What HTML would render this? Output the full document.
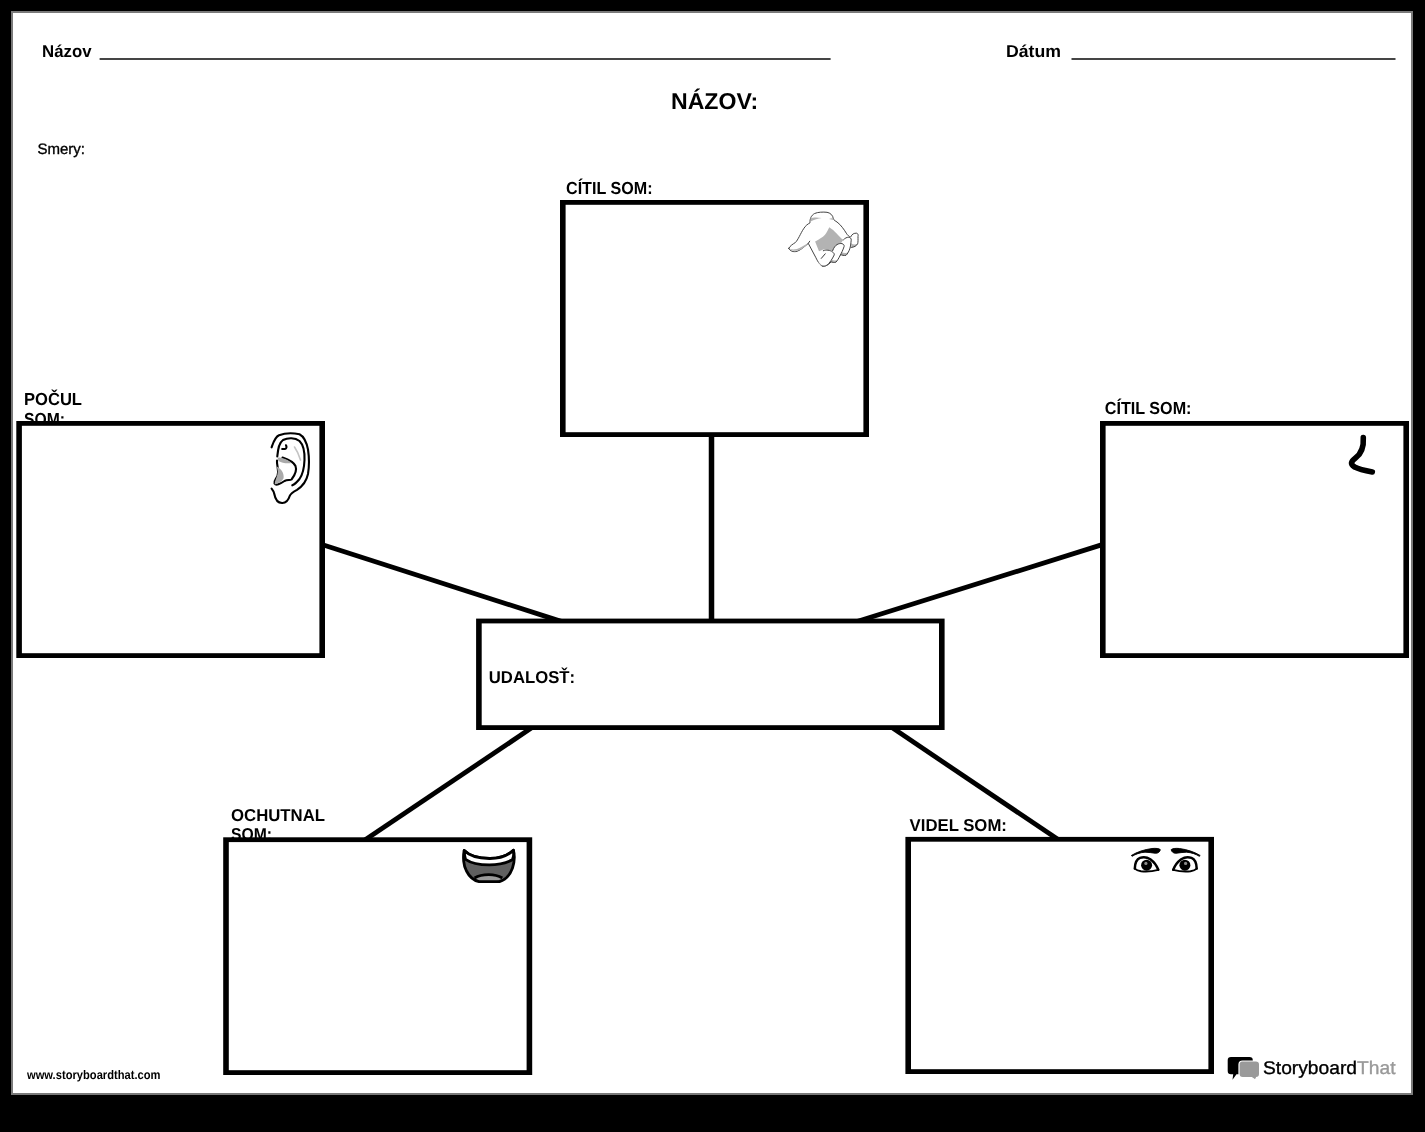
<!DOCTYPE html>
<html><head><meta charset="utf-8">
<style>
html,body{margin:0;padding:0;background:#000;width:1425px;height:1132px;overflow:hidden;}
svg{position:absolute;left:0;top:0;display:block;will-change:transform;}
text{font-family:"Liberation Sans",sans-serif;text-rendering:geometricPrecision;}
</style></head>
<body>
<svg width="1425" height="1132" viewBox="0 0 1425 1132">
<!-- page -->
<rect x="0" y="0" width="1425" height="1132" fill="#000"/>
<rect x="12" y="12" width="1400" height="1082" fill="#fff" stroke="#7a7a7a" stroke-width="2"/>

<!-- header -->
<g font-weight="bold" fill="#000">
<text id="t_nazov" x="42" y="57" font-size="17.2" textLength="49.5" lengthAdjust="spacingAndGlyphs">Názov</text>
<text id="t_datum" x="1006" y="56.9" font-size="17.2" textLength="55" lengthAdjust="spacingAndGlyphs">Dátum</text>
<text id="t_title" x="671" y="109" font-size="23.0" textLength="87.2" lengthAdjust="spacingAndGlyphs">NÁZOV:</text>
</g>
<rect x="99.6" y="58" width="731" height="2" fill="#454545"/>
<rect x="1071.5" y="58" width="324" height="2" fill="#454545"/>
<text id="t_smery" x="37.4" y="154" font-size="15.2" textLength="47.6" lengthAdjust="spacingAndGlyphs" fill="#000" stroke="#000" stroke-width="0.35">Smery:</text>

<!-- connector lines -->
<g stroke="#000" fill="none">
<line x1="711.5" y1="430" x2="711.5" y2="625" stroke-width="5.5"/>
<line x1="318" y1="543.2" x2="565" y2="622.6" stroke-width="4.8"/>
<line x1="1107" y1="543.1" x2="853" y2="622.8" stroke-width="4.8"/>
<line x1="535" y1="725.6" x2="363" y2="841.2" stroke-width="4.8"/>
<line x1="889" y1="725.6" x2="1060" y2="840.8" stroke-width="4.8"/>
</g>

<!-- labels -->
<g font-weight="bold" fill="#000">
<text id="t_top" x="566" y="193.8" font-size="17.4" textLength="86.5" lengthAdjust="spacingAndGlyphs">CÍTIL SOM:</text>
<text id="t_pocul" x="24" y="405" font-size="17.4" textLength="58" lengthAdjust="spacingAndGlyphs">POČUL</text>
<text id="t_pocul2" x="24" y="424.5" font-size="17.4" textLength="41" lengthAdjust="spacingAndGlyphs">SOM:</text>
<text id="t_right" x="1104.8" y="414" font-size="17.4" textLength="86.7" lengthAdjust="spacingAndGlyphs">CÍTIL SOM:</text>
<text id="t_och" x="231" y="821" font-size="17.2" textLength="94" lengthAdjust="spacingAndGlyphs">OCHUTNAL</text>
<text id="t_och2" x="231" y="839.8" font-size="17.2" textLength="41" lengthAdjust="spacingAndGlyphs">SOM:</text>
<text id="t_videl" x="909.6" y="831" font-size="17.2" textLength="97.3" lengthAdjust="spacingAndGlyphs">VIDEL SOM:</text>
</g>

<!-- boxes -->
<rect x="560.0" y="200.0" width="309.0" height="237.0" fill="#000"/>
<rect x="565.6" y="204.8" width="297.8" height="227.4" fill="#fff"/>
<rect x="16.3" y="421.0" width="308.7" height="237.0" fill="#000"/>
<rect x="21.9" y="425.8" width="297.5" height="227.4" fill="#fff"/>
<rect x="1100.0" y="421.0" width="309.0" height="237.0" fill="#000"/>
<rect x="1105.6" y="425.8" width="297.8" height="227.4" fill="#fff"/>
<rect x="476.1" y="618.6" width="468.5" height="111.4" fill="#000"/>
<rect x="481.7" y="623.4" width="457.3" height="101.8" fill="#fff"/>
<rect x="223.2" y="837.3" width="309.0" height="237.7" fill="#000"/>
<rect x="228.8" y="842.1" width="297.8" height="228.1" fill="#fff"/>
<rect x="905.4" y="836.9" width="308.6" height="237.1" fill="#000"/>
<rect x="911.0" y="841.7" width="297.4" height="227.5" fill="#fff"/>
<text id="t_event2" x="488.8" y="683" font-size="17.2" font-weight="bold" textLength="86.3" lengthAdjust="spacingAndGlyphs">UDALOSŤ:</text>


<!-- icons -->
<!-- nose -->
<path d="M1363.3,437.6 C1363.9,447 1361.5,453.5 1355.5,458 C1351,461.5 1349.8,464.2 1354.6,467 C1358.5,469 1366,470.8 1372.3,472" fill="none" stroke="#000" stroke-width="5.6" stroke-linecap="round" stroke-linejoin="round"/>
<!-- eyes -->
<g>
<path d="M1134.8,868.6 C1135,863 1137,859 1140,857.9 C1143,857 1147,857.2 1150.3,859.2 C1153.5,861.5 1156.5,865 1158.3,869.8 C1153,871.2 1145,871.6 1141,871.2 C1138.5,870.8 1136.2,870 1134.8,868.6 Z" fill="#fff"/>
<circle cx="1146.6" cy="865.2" r="5.5" fill="#000"/>
<circle cx="1145.9" cy="863.4" r="1.6" fill="#8a8a8a"/>
<path d="M1134.8,868.6 C1135,863 1137,859 1140,857.9 C1143,857 1147,857.2 1150.3,859.2 C1153.5,861.5 1156.5,865 1158.3,869.8" fill="none" stroke="#000" stroke-width="2.5" stroke-linecap="round"/>
<path d="M1158.3,869.8 C1153,871.2 1145,871.6 1141,871.2 C1138.5,870.8 1136.2,870 1134.8,868.6" fill="none" stroke="#000" stroke-width="1.9" stroke-linecap="round"/>
<path d="M1131.3,855.5 C1137,852 1144,849.6 1152,848.5 C1156,848.1 1159,848.5 1160.3,849.6 C1160.1,851.5 1158.4,853.3 1155.6,853.3 C1152,853 1149,852.1 1145,852.2 C1140,852.5 1135.5,854.2 1132.2,856.3 Z" fill="#000" stroke="#000" stroke-width="0.9" stroke-linejoin="round"/>
</g>
<g transform="translate(2331.5,0) scale(-1,1)">
<path d="M1134.8,868.6 C1135,863 1137,859 1140,857.9 C1143,857 1147,857.2 1150.3,859.2 C1153.5,861.5 1156.5,865 1158.3,869.8 C1153,871.2 1145,871.6 1141,871.2 C1138.5,870.8 1136.2,870 1134.8,868.6 Z" fill="#fff"/>
<circle cx="1146.6" cy="865.2" r="5.5" fill="#000"/>
<circle cx="1145.9" cy="863.4" r="1.6" fill="#8a8a8a"/>
<path d="M1134.8,868.6 C1135,863 1137,859 1140,857.9 C1143,857 1147,857.2 1150.3,859.2 C1153.5,861.5 1156.5,865 1158.3,869.8" fill="none" stroke="#000" stroke-width="2.5" stroke-linecap="round"/>
<path d="M1158.3,869.8 C1153,871.2 1145,871.6 1141,871.2 C1138.5,870.8 1136.2,870 1134.8,868.6" fill="none" stroke="#000" stroke-width="1.9" stroke-linecap="round"/>
<path d="M1131.3,855.5 C1137,852 1144,849.6 1152,848.5 C1156,848.1 1159,848.5 1160.3,849.6 C1160.1,851.5 1158.4,853.3 1155.6,853.3 C1152,853 1149,852.1 1145,852.2 C1140,852.5 1135.5,854.2 1132.2,856.3 Z" fill="#000" stroke="#000" stroke-width="0.9" stroke-linejoin="round"/>
</g>
<!-- mouth -->
<path d="M464.2,850.5 C462.8,857 463.5,866 466.5,871 C469.5,877 474,880.5 479,881.6 L499.5,881.6 C505,880 510,875 512.5,868 C514.5,862 514.8,855.5 513.4,850.2 C507,856.5 499,858.6 489.3,858.5 C479,858.4 470,856.5 464.2,850.5 Z" fill="#606060"/>
<path d="M474.6,878 C478,875.8 484,874.6 488.8,874.6 C494,874.6 499,876 502.3,878 C499,881 494,881.6 488.8,881.6 C483,881.6 478,881 474.6,878 Z" fill="#9a9a9a"/>
<g stroke="#000" stroke-width="2.8" stroke-linejoin="round">
<path d="M464.2,850.5 C462.8,857 463.5,866 466.5,871 C469.5,877 474,880.5 479,881.6 L499.5,881.6 C505,880 510,875 512.5,868 C514.5,862 514.8,855.5 513.4,850.2 C507,856.5 499,858.6 489.3,858.5 C479,858.4 470,856.5 464.2,850.5 Z" fill="none"/>
<path d="M464.2,850.5 C470,856.5 479,858.4 489.3,858.5 C499,858.6 507,856.5 513.4,850.2 C514,853.5 513.6,857 512.4,859.8 C505,863.5 497,864.8 489.3,864.8 C480,864.8 470.5,862.8 465.5,859.3 C464.5,856 464.3,853 464.2,850.5 Z" fill="#fff"/>
<path d="M474.6,878 C478,875.8 484,874.6 488.8,874.6 C494,874.6 499,876 502.3,878" fill="none"/>
</g>
<!-- ear -->
<g fill="none" stroke="#000" stroke-width="2.1" stroke-linecap="round" stroke-linejoin="round">
<path d="M277,460.5 C276.5,466 279.5,470 277.5,476 C276,479.5 273.5,481 274.5,483.5 C276,486 280,484 284.5,481 C287.5,479.5 290,480.5 291.5,479.5 C295,475 297,470 295.5,466 C293.5,461.5 287,459 282.5,457.5" fill="#fff"/>
<path d="M271.6,447.3 C273.5,442 275,437 279,435.3 C285,433 293,433 299.5,434.2 C304,436.5 306.5,442 308,449.5 C309.3,458 309,468 308,474 C306.5,481 303,486 297,489.8 C293,492 290.5,493.5 289.8,495.8 C288.5,500 286,503.2 282,503 C277,502.8 275.2,499 274.3,494 C273.8,491.5 272.8,490 271.6,488.6"/>
<path d="M277.3,456.5 C278,450 278.5,443 283,440 C288,437.5 295,437.5 299.5,441 C303.5,445 304.8,452 304.5,460 C304.2,468 303,474 299.5,479 C297,482 294.5,484.5 292.3,485.3"/>
<path d="M286,445.3 C286.8,446.8 286.6,448.8 285,449 L282.2,449"/>
</g>
<path d="M277.5,457.5 C283,457.5 289,460 291.5,463 C287,463.8 282,463 278.5,461 Z" fill="#aaa"/>
<path d="M276.8,466.5 C281.5,469 284.3,473.5 283.6,478.3 C282,481.5 278.5,483.6 274.6,484.4 C275,479.5 277.8,476 277.8,471.5 Z" fill="#aaa"/>
<path d="M294.5,447 C297,450.5 299,455 300.5,460" fill="none" stroke="#c4c4c4" stroke-width="1.6" stroke-linecap="round"/>

<!-- hand -->
<g stroke-linejoin="round" stroke-linecap="round">
<path d="M788.8,248.3 C790,245.8 793,244 795.4,242.5 C798,240 800.5,233.5 803.6,228.8 C805.5,225.5 808,224 810,222.8 C809.8,219 811,215.5 814.6,213.5 C818,212 823,211.9 827,212.3 C830,212.8 833,215 833.4,219 C834,220.3 835.5,221 837,222 C841,225 844,229.5 846.3,233.2 C847.5,235.2 849,236.5 850.6,237.2 L850,248 L831,262 C828,265.5 825,266.5 822,266 C819,264 817.5,261 815.7,257.3 L808.3,243.4 C805,246 801,250 797.1,251.3 C793.5,252.3 789.8,251.2 788.8,248.3 Z" fill="#fff" stroke="#3a3a3a" stroke-width="0.95"/>
<path d="M815.1,241.4 C819,239.5 822.5,237.5 825,234.8 C826.8,232.5 828.2,229.5 829.3,227.2 C832,229 834.5,231 836.4,233.2 C839,236 841,238.5 843.5,239.8 L841.9,243.6 L832.6,250.7 C829,250 826,249.8 823.3,249.6 L819,251.3 Z" fill="#b3b3b3"/>
<path d="M789.5,248.8 C792,251.3 797,251.4 801,249.5 C804,247.8 806.5,245.5 808.5,243 C804,245.5 800,248 797,249 C794,249.7 791.5,249.5 789.5,248.8 Z" fill="#b3b3b3"/>
<path d="M810.6,218.3 C813,217.3 817,217.2 821.8,218 C818,218.6 814,219.6 810.6,221.6 Z" fill="#b3b3b3"/>
<path d="M829,219 C830.5,218.3 832,218.2 833.3,218.5 L833.5,220 Z" fill="#b3b3b3"/>
<path d="M816.5,259 C818.5,262.5 821.5,264.5 825.5,265.3 C823,266.5 820.5,265.5 819,263.3 Z" fill="#b3b3b3"/>
<path d="M809.7,241.2 L808.3,243.4" fill="none" stroke="#3a3a3a" stroke-width="0.95"/>
<!-- pinky -->
<path d="M850.7,236.8 C852,234 854,233 856.7,233.2 C858,233.6 858.4,235 858,236.5 C858,239.5 858.2,242 857.6,243.8 C856.5,246 854,247.2 851.5,247.4 L848,247 L849,238 Z" fill="#fff"/>
<path d="M851,243.2 C853,244.7 855.5,245 857.6,243.8 C856.5,246 854,247.2 851.5,247.4 Z" fill="#b3b3b3"/>
<path d="M850.7,236.8 C852,234 854,233 856.7,233.2 C858,233.6 858.4,235 858,236.5 C858,239.5 858.2,242 857.6,243.8 C856.5,246 854,247.2 851.5,247.4" fill="none" stroke="#3a3a3a" stroke-width="0.95"/>
<!-- ring -->
<path d="M843.5,239.8 C845,238 847,237.2 848.5,237.3 C850.5,237.4 851.5,238.6 851.2,240.2 C850.8,244 850.5,246.5 849.8,248.8 C848.8,251.5 847.5,254 846,255.3 C844,255.8 842,255.2 840.5,254.5 L838,247 Z" fill="#fff"/>
<path d="M841,251.8 C843.5,253.3 846.5,253.6 848.6,251.8 C847.8,253.8 846.8,255 845.6,255.4 C843.8,255.8 842,255.3 840.5,254.5 Z" fill="#b3b3b3"/>
<path d="M843.5,239.8 C845,238 847,237.2 848.5,237.3 C850.5,237.4 851.5,238.6 851.2,240.2 C850.8,244 850.5,246.5 849.8,248.8 C848.8,251.5 847.5,254 846,255.3 C844,255.8 842,255.2 840.5,254.5" fill="none" stroke="#3a3a3a" stroke-width="0.95"/>
<!-- middle -->
<path d="M832.6,250.7 C833.8,247.5 835.5,245.5 837,244.6 C838.8,243.6 840.5,243.3 842,243.6 C843.6,244.2 844.5,245.3 844.1,246.5 C843,250 841.5,252.8 840.3,255.1 C838.8,258.2 837.5,260.5 835.9,262.2 C834,262.8 832.5,262.5 831,261.7 L828,255 Z" fill="#fff"/>
<path d="M831.5,259.4 C833,260.4 835.5,260.9 837.6,259.9 C837,261.1 836.5,261.8 835.9,262.2 C834,262.8 832.5,262.5 831,261.7 Z" fill="#b3b3b3"/>
<path d="M832.6,250.7 C833.8,247.5 835.5,245.5 837,244.6 C838.8,243.6 840.5,243.3 842,243.6 C843.6,244.2 844.5,245.3 844.1,246.5 C843,250 841.5,252.8 840.3,255.1 C838.8,258.2 837.5,260.5 835.9,262.2 C834,262.8 832.5,262.5 831,261.7" fill="none" stroke="#3a3a3a" stroke-width="0.95"/>
<!-- curled index -->
<path d="M823.3,250.7 C825,250 826.5,250 828,250.2 C830,250.6 831.6,251 832.3,251.8 C833.8,252.8 834.5,253.8 834.2,255 C833.2,257.2 832,259 831,260.6 C829.5,262.6 828.3,264.2 826.8,265.2 C825.3,266.1 823.8,266.2 822.3,266 L819,262 Z" fill="#fff"/>
<path d="M823.3,250.7 C825,250 826.5,250 828,250.2 C830,250.6 831.6,251 832.3,251.8 C833.8,252.8 834.5,253.8 834.2,255 C833.2,257.2 832,259 831,260.6 C829.5,262.6 828.3,264.2 826.8,265.2 C825.3,266.1 823.8,266.2 822.3,266" fill="none" stroke="#3a3a3a" stroke-width="0.95"/>
<path d="M821.3,258.4 L825.2,253.8" fill="none" stroke="#3a3a3a" stroke-width="1"/>
</g>

<!-- logo bubbles -->
<path d="M1231,1057 L1249.5,1057 Q1252.8,1057 1252.8,1060.3 L1252.8,1071 Q1252.8,1074.3 1249.5,1074.3 L1236.5,1074.3 L1232.5,1079.8 L1233.2,1074.3 L1231,1074.3 Q1227.7,1074.3 1227.7,1071 L1227.7,1060.3 Q1227.7,1057 1231,1057 Z" fill="#000"/>
<path d="M1242.6,1061 L1256,1061 Q1259.6,1061 1259.6,1064.6 L1259.6,1073.9 Q1259.6,1077.5 1256,1077.5 L1256.6,1077.5 L1255.2,1080 L1251.6,1077.5 L1242.6,1077.5 Q1239,1077.5 1239,1073.9 L1239,1064.6 Q1239,1061 1242.6,1061 Z" fill="#9a9a9a" stroke="#fff" stroke-width="1.2"/>

<!-- footer -->
<text id="t_www" x="27" y="1078.5" font-size="12.5" font-weight="bold" textLength="133.5" lengthAdjust="spacingAndGlyphs">www.storyboardthat.com</text>
<text id="t_sbt" x="1263" y="1073.7" font-size="18.4" textLength="132.5" lengthAdjust="spacingAndGlyphs" stroke-width="0.35"><tspan fill="#000" stroke="#000">Storyboard</tspan><tspan fill="#999" stroke="#999">That</tspan></text>

</svg>
</body></html>
